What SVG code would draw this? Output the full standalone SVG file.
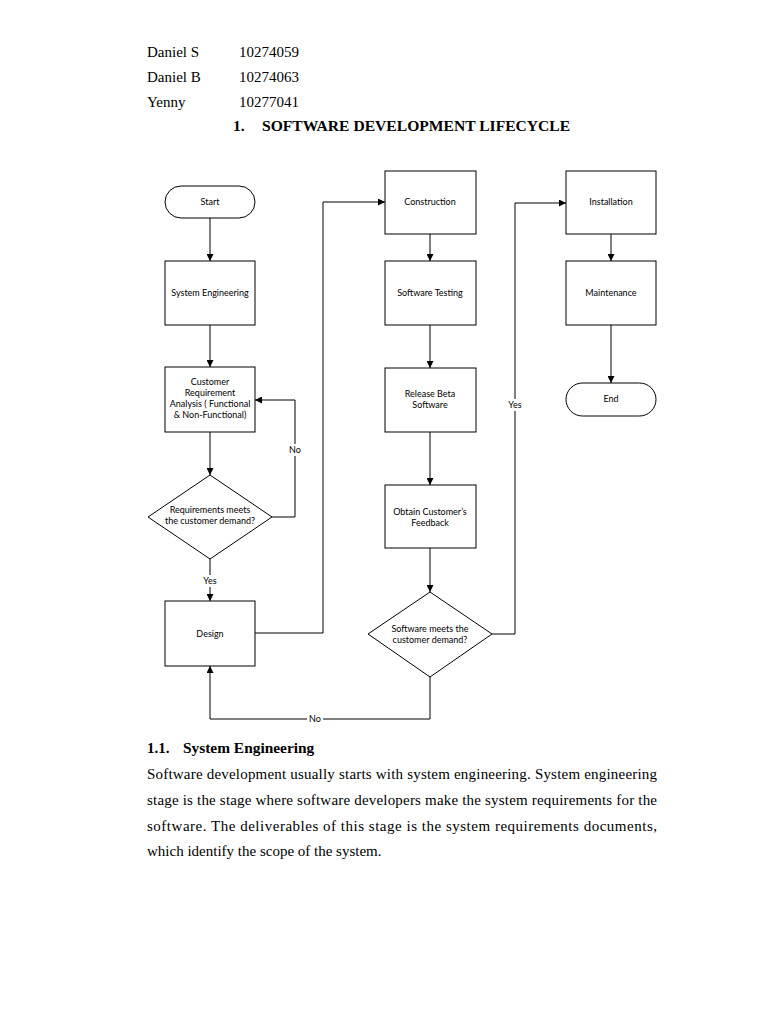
<svg xmlns="http://www.w3.org/2000/svg" width="768" height="1024" viewBox="0 0 768 1024">
<defs>
<style>
.doc{font-family:"Liberation Serif","Times New Roman",serif;font-size:15px;fill:#000}
.b{font-weight:bold}
.t{font-size:15.6px}
.shape{fill:#fff;stroke:#000;stroke-width:1}
.lbl{font-family:Lato,"Open Sans",sans-serif;font-size:9px;fill:#000;text-anchor:middle}
.conn{fill:none;stroke:#000;stroke-width:1}
</style>
<marker id="arr" viewBox="0 0 10 10" refX="10" refY="5" markerWidth="7" markerHeight="7" orient="auto" markerUnits="userSpaceOnUse">
<path d="M0,0 L10,5 L0,10 z" fill="#000"/>
</marker>
</defs>
<rect width="768" height="1024" fill="#fff"/>
<g id="header">
<text class="doc" x="147" y="57">Daniel S</text>
<text class="doc" x="239" y="57">10274059</text>
<text class="doc" x="147" y="82">Daniel B</text>
<text class="doc" x="239" y="82">10274063</text>
<text class="doc" x="147" y="107">Yenny</text>
<text class="doc" x="239" y="107">10277041</text>
<text class="doc b t" x="233" y="131">1.</text>
<text class="doc b t" x="262" y="131">SOFTWARE DEVELOPMENT LIFECYCLE</text>
</g>
<g id="connectors">
<path class="conn" d="M210,218 V261" marker-end="url(#arr)"/>
<path class="conn" d="M210,325 V367" marker-end="url(#arr)"/>
<path class="conn" d="M210,432 V475" marker-end="url(#arr)"/>
<path class="conn" d="M272,517 H295 V400 H255" marker-end="url(#arr)"/>
<path class="conn" d="M210,559 V601" marker-end="url(#arr)"/>
<path class="conn" d="M255,633 H323 V202 H385" marker-end="url(#arr)"/>
<path class="conn" d="M430,234 V261" marker-end="url(#arr)"/>
<path class="conn" d="M430,325 V368" marker-end="url(#arr)"/>
<path class="conn" d="M430,432 V485" marker-end="url(#arr)"/>
<path class="conn" d="M430,548 V592" marker-end="url(#arr)"/>
<path class="conn" d="M492,634 H515 V203 H566" marker-end="url(#arr)"/>
<path class="conn" d="M430,677 V719 H210 V666" marker-end="url(#arr)"/>
<path class="conn" d="M611,234 V261" marker-end="url(#arr)"/>
<path class="conn" d="M611,325 V383" marker-end="url(#arr)"/>
<rect x="287" y="444" width="16" height="12" fill="#fff"/>
<text class="lbl" x="295" y="453">No</text>
<rect x="201" y="575" width="18" height="12" fill="#fff"/>
<text class="lbl" x="210" y="584">Yes</text>
<rect x="506" y="399" width="18" height="12" fill="#fff"/>
<text class="lbl" x="515" y="408">Yes</text>
<rect x="307" y="713" width="16" height="12" fill="#fff"/>
<text class="lbl" x="315" y="722">No</text>
</g>
<g id="start">
<rect class="shape" x="165" y="186" width="90" height="32" rx="16" ry="16"/>
<text class="lbl" x="210" y="205">Start</text>
</g>
<g id="system-engineering">
<rect class="shape" x="165" y="261" width="90" height="64"/>
<text class="lbl" x="210" y="296">System Engineering</text>
</g>
<g id="customer-requirement">
<rect class="shape" x="165" y="367" width="90" height="65"/>
<text class="lbl" x="210" y="385">Customer</text>
<text class="lbl" x="210" y="396">Requirement</text>
<text class="lbl" x="210" y="407">Analysis ( Functional</text>
<text class="lbl" x="210" y="418">&amp; Non-Functional)</text>
</g>
<g id="decision-requirements">
<polygon class="shape" points="210,475 272,517 210,559 148,517"/>
<text class="lbl" x="210" y="513">Requirements meets</text>
<text class="lbl" x="210" y="524">the customer demand?</text>
</g>
<g id="design">
<rect class="shape" x="165" y="601" width="90" height="65"/>
<text class="lbl" x="210" y="637">Design</text>
</g>
<g id="construction">
<rect class="shape" x="385" y="171" width="91" height="63"/>
<text class="lbl" x="430" y="205">Construction</text>
</g>
<g id="software-testing">
<rect class="shape" x="385" y="261" width="91" height="64"/>
<text class="lbl" x="430" y="296">Software Testing</text>
</g>
<g id="release-beta">
<rect class="shape" x="385" y="368" width="91" height="64"/>
<text class="lbl" x="430" y="397">Release Beta</text>
<text class="lbl" x="430" y="408">Software</text>
</g>
<g id="customer-feedback">
<rect class="shape" x="385" y="485" width="91" height="63"/>
<text class="lbl" x="430" y="515">Obtain Customer’s</text>
<text class="lbl" x="430" y="526">Feedback</text>
</g>
<g id="decision-software">
<polygon class="shape" points="430,592 492,634 430,677 368,634"/>
<text class="lbl" x="430" y="632">Software meets the</text>
<text class="lbl" x="430" y="643">customer demand?</text>
</g>
<g id="installation">
<rect class="shape" x="566" y="171" width="90" height="63"/>
<text class="lbl" x="611" y="205">Installation</text>
</g>
<g id="maintenance">
<rect class="shape" x="566" y="261" width="90" height="64"/>
<text class="lbl" x="611" y="296">Maintenance</text>
</g>
<g id="end">
<rect class="shape" x="566" y="383" width="90" height="33" rx="16.5" ry="16.5"/>
<text class="lbl" x="611" y="402">End</text>
</g>
<g id="section">
<text class="doc b" x="147" y="753">1.1.</text>
<text class="doc b" x="183" y="753" style="font-size:15.4px">System Engineering</text>
<text class="doc" x="147" y="779" textLength="510" lengthAdjust="spacing">Software development usually starts with system engineering. System engineering</text>
<text class="doc" x="147" y="805" textLength="510" lengthAdjust="spacing">stage is the stage where software developers make the system requirements for the</text>
<text class="doc" x="147" y="831" textLength="510" lengthAdjust="spacing">software. The deliverables of this stage is the system requirements documents,</text>
<text class="doc" x="147" y="856">which identify the scope of the system.</text>
</g>
</svg>
